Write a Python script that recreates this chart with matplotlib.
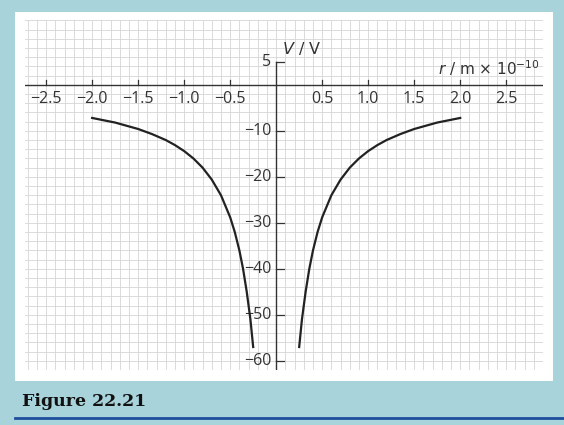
import matplotlib
matplotlib.use('Agg')
import matplotlib.pyplot as plt
from matplotlib.lines import Line2D

# values (r in 1e-10 m, V in volts)
r_right = [0.25, 0.28, 0.32, 0.36, 0.40, 0.45, 0.50, 0.60, 0.70, 0.80, 0.90, 1.00,
           1.10, 1.20, 1.35, 1.50, 1.75, 2.00]
v_right = [-57.0, -51.0, -45.0, -40.0, -36.0, -32.0, -28.8, -24.0, -20.6, -18.0,
           -16.0, -14.4, -13.1, -12.0, -10.7, -9.6, -8.2, -7.2]
r_left = [-r for r in r_right]
v_left = list(v_right)

x_ticks = [-2.5, -2.0, -1.5, -1.0, -0.5, 0.5, 1.0, 1.5, 2.0, 2.5]
y_ticks = [-10, -20, -30, -40, -50, -60]

bg = '#a9d3db'
fig = plt.figure(figsize=(5.64, 4.25), dpi=100, facecolor=bg)
# white panel behind the graph paper
panel = fig.add_axes([15 / 564, 1 - 381 / 425, 538 / 564, 369 / 425])
panel.set_facecolor('white')
panel.set_xticks([])
panel.set_yticks([])
for s in panel.spines.values():
    s.set_visible(False)

ax = fig.add_axes([25 / 564, 55 / 425, 518 / 564, 350 / 425])
ax.set_zorder(2)
ax.set_facecolor('white')
ax.set_xlim(-2.73, 2.90)
ax.set_ylim(-62.0, 14.1)

# graph-paper grid
for i in range(-27, 30):
    ax.axvline(i * 0.1, color='#d6d6d6', lw=0.6, zorder=1)
for j in range(-31, 8):
    ax.axhline(j * 2, color='#d6d6d6', lw=0.6, zorder=1)

for s in ['top', 'right', 'bottom', 'left']:
    ax.spines[s].set_visible(False)
ax.set_xticks([])
ax.set_yticks([])
ax.axhline(0, color='#333333', lw=1.0, zorder=3)
ax.plot([0, 0], [-62, 5], color='#333333', lw=1.0, zorder=3)

txt = dict(color='#333333', fontsize=11.5, family='Open Sans')
for x in x_ticks:
    ax.plot([x, x], [0, 1.0], color='#333333', lw=0.9, zorder=3)
    ax.text(x, -1.3, f'{x:.1f}'.replace('-', '\u2212'), ha='center', va='top', **txt)
for y in y_ticks:
    ax.plot([0, 0.08], [y, y], color='#333333', lw=0.9, zorder=3)
    ax.text(-0.05, y, f'\u2212{abs(y)}', ha='right', va='center', **txt)
ax.plot([0, 0.08], [5, 5], color='#333333', lw=0.9, zorder=3)
ax.text(-0.05, 5, '5', ha='right', va='center', **txt)
ax.text(0.06, 8.0, '$\\mathit{V}$ / V', ha='left', va='center', color='#333333',
        fontsize=11.5)
ax.text(2.87, 3.6, '$\\mathit{r}$ / m \u00d7 10$^{-10}$', ha='right', va='center',
        color='#333333', fontsize=11)

ax.plot(r_right, v_right, color='#222222', lw=1.6, zorder=4)
ax.plot(r_left, v_left, color='#222222', lw=1.6, zorder=4)

fig.text(22 / 564, 1 - 402 / 425, 'Figure 22.21', ha='left', va='center',
         fontsize=12.5, fontweight='bold', family='DejaVu Serif', color='#111111')
fig.lines.append(Line2D([15 / 564, 1], [1 - 418 / 425] * 2, transform=fig.transFigure,
                        color='#1f4e9c', lw=2))

fig.savefig('out.png', dpi=100, facecolor=bg)
